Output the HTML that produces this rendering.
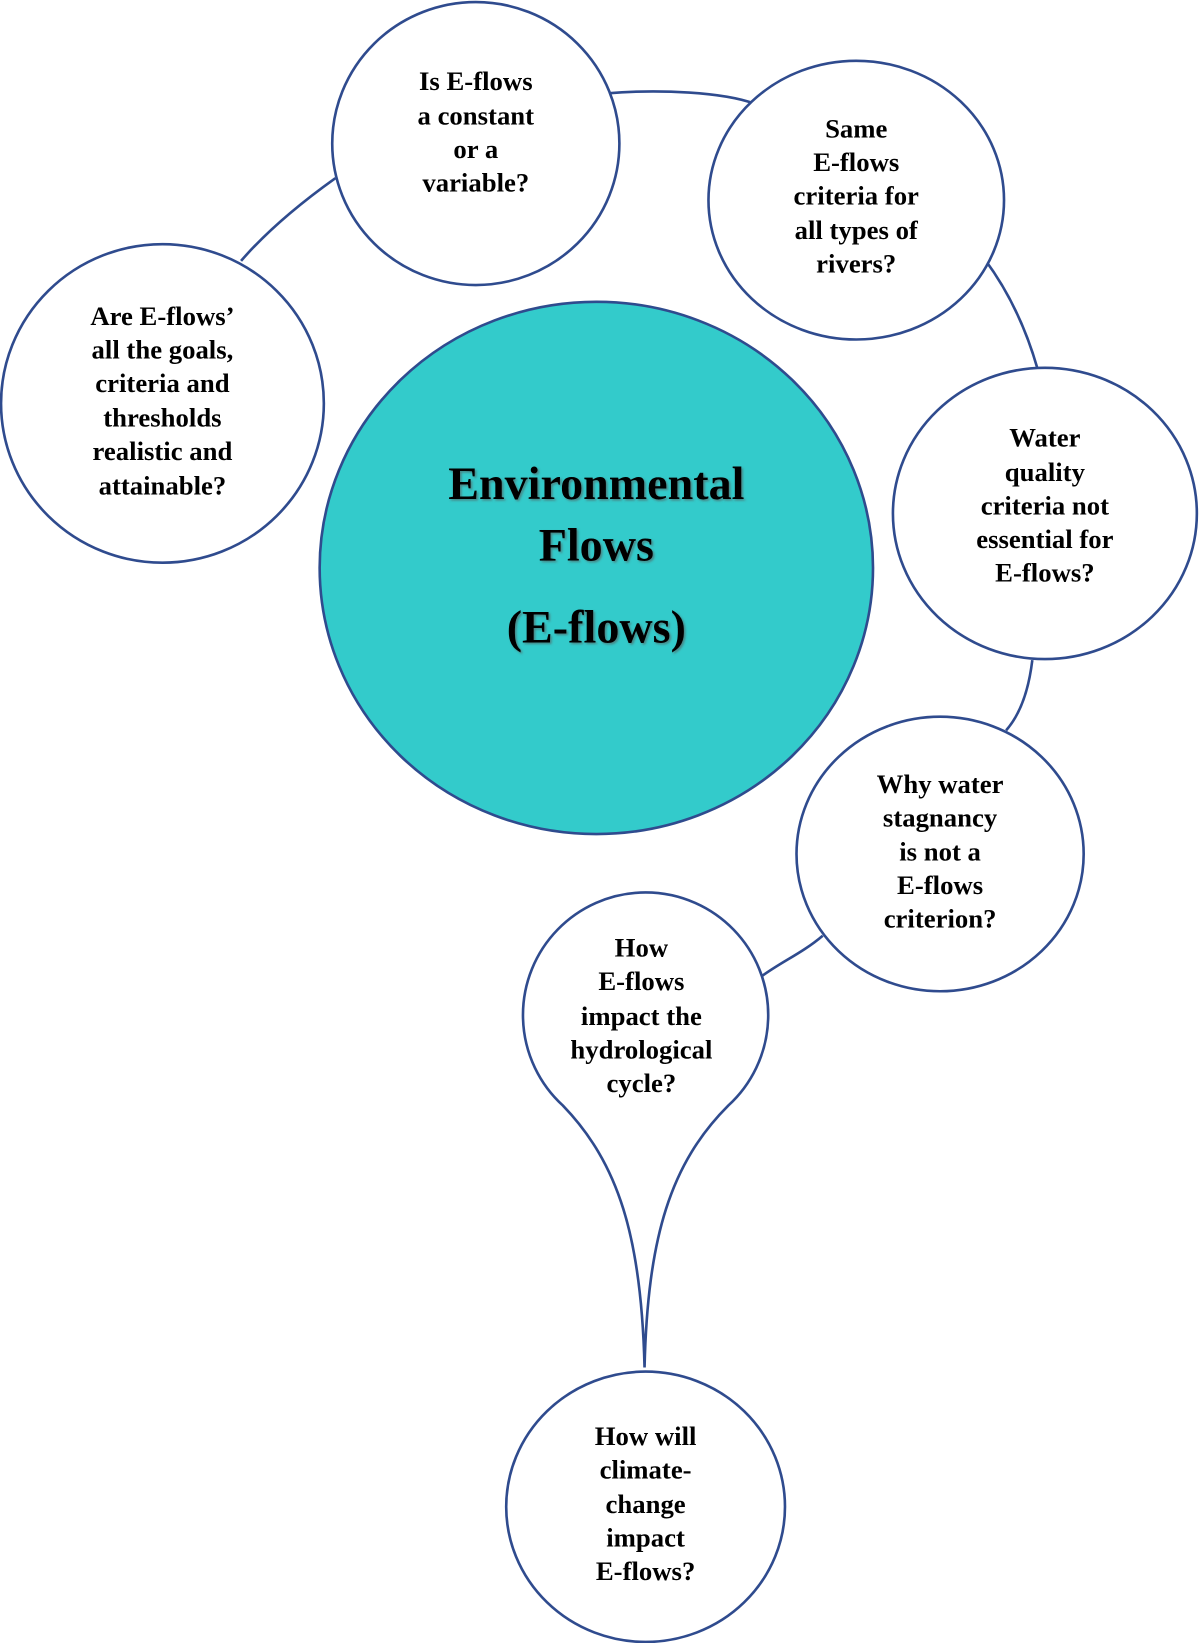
<!DOCTYPE html>
<html><head><meta charset="utf-8"><style>
html,body{margin:0;padding:0;background:#fff}
svg{display:block}
text{font-family:"Liberation Serif",serif;font-weight:bold;fill:#000;text-anchor:middle}
.t{font-size:25.5px}
.h{font-size:44px;filter:url(#sh)}
</style></head><body>
<svg width="1200" height="1643" viewBox="0 0 1145 1568" preserveAspectRatio="none" xmlns="http://www.w3.org/2000/svg">
<defs><filter id="sh"><feDropShadow dx="1.5" dy="1.5" stdDeviation="1" flood-color="#555" flood-opacity="0.6"/></filter></defs>
<g fill="none" stroke="#2f4b8e" stroke-width="2.5">
<path d="M230,249 C255,220 285,195 320,170"/>
<path d="M580,89 C630,85 690,88 720,99"/>
<path d="M940,248 C960,275 978,310 990,352"/>
<path d="M985,630 C982,655 975,680 960,697"/>
<path d="M785,893 C765,910 745,918 725,933"/>
</g>
<g stroke="#2f4b8e" stroke-width="2.5">
<ellipse cx="569" cy="542" rx="264" ry="254" fill="#33cbcb"/>
<ellipse cx="454" cy="137" rx="137" ry="135" fill="#fff"/>
<ellipse cx="817" cy="191" rx="141" ry="133" fill="#fff"/>
<ellipse cx="155" cy="385" rx="154" ry="152" fill="#fff"/>
<ellipse cx="997" cy="490" rx="145" ry="139" fill="#fff"/>
<ellipse cx="897" cy="815" rx="137" ry="131" fill="#fff"/>
<path d="M615,1305 C612,1180 590,1110 537,1055 A117 117 0 1 1 695,1055 C640,1110 618,1180 615,1305 Z" fill="#fff"/>
<ellipse cx="616" cy="1438" rx="133" ry="129" fill="#fff"/>
</g>
<text class="h" x="569" y="476">Environmental</text>
<text class="h" x="569" y="535">Flows</text>
<text class="h" x="569" y="613">(E-flows)</text>
<g class="t">
<text x="454" y="86" class="t">Is E-flows</text>
<text x="454" y="119" class="t">a constant</text>
<text x="454" y="151" class="t">or a</text>
<text x="454" y="183" class="t">variable?</text>
<text x="817" y="131" class="t">Same</text>
<text x="817" y="163" class="t">E-flows</text>
<text x="817" y="195" class="t">criteria for</text>
<text x="817" y="228" class="t">all types of</text>
<text x="817" y="260" class="t">rivers?</text>
<text x="155" y="310" class="t">Are E-flows’</text>
<text x="155" y="342" class="t">all the goals,</text>
<text x="155" y="374" class="t">criteria and</text>
<text x="155" y="407" class="t">thresholds</text>
<text x="155" y="439" class="t">realistic and</text>
<text x="155" y="472" class="t">attainable?</text>
<text x="997" y="426" class="t">Water</text>
<text x="997" y="459" class="t">quality</text>
<text x="997" y="491" class="t">criteria not</text>
<text x="997" y="523" class="t">essential for</text>
<text x="997" y="555" class="t">E-flows?</text>
<text x="897" y="757" class="t">Why water</text>
<text x="897" y="789" class="t">stagnancy</text>
<text x="897" y="821" class="t">is not a</text>
<text x="897" y="853" class="t">E-flows</text>
<text x="897" y="885" class="t">criterion?</text>
<text x="612" y="913" class="t">How</text>
<text x="612" y="945" class="t">E-flows</text>
<text x="612" y="978" class="t">impact the</text>
<text x="612" y="1010" class="t">hydrological</text>
<text x="612" y="1042" class="t">cycle?</text>
<text x="616" y="1379" class="t">How will</text>
<text x="616" y="1411" class="t">climate-</text>
<text x="616" y="1444" class="t">change</text>
<text x="616" y="1476" class="t">impact</text>
<text x="616" y="1508" class="t">E-flows?</text>
</g>
</svg>
</body></html>
